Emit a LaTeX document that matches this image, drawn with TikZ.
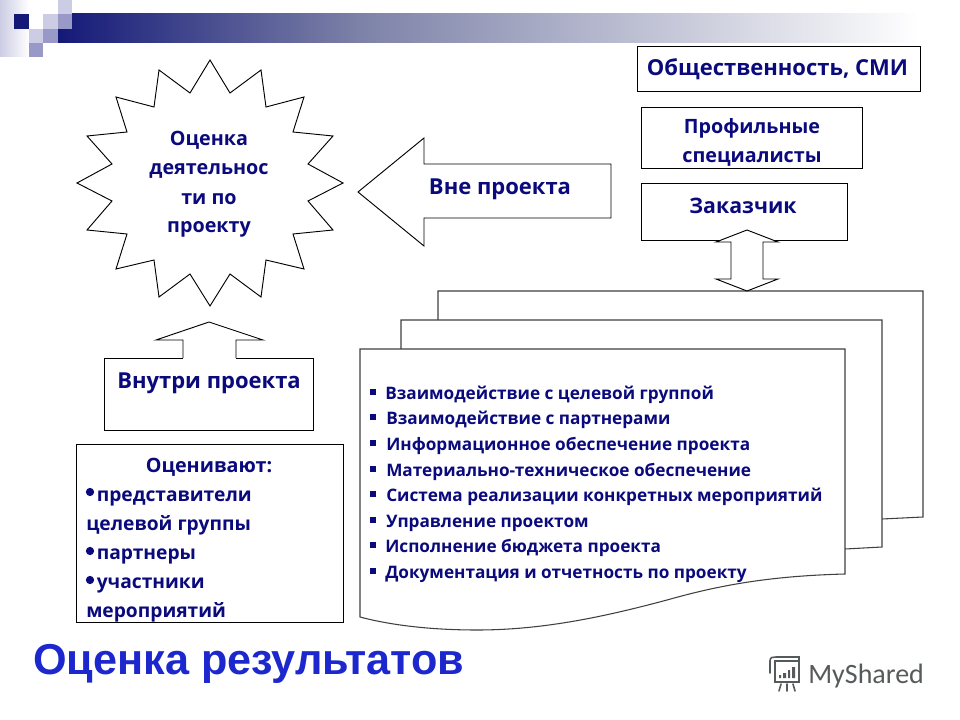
\documentclass[tikz,border=0pt]{standalone}
\usepackage{fontspec}
\setmainfont{Open Sans}
\newfontfamily\titlefont{Liberation Sans}
\newfontfamily\logofont{Carlito}
\definecolor{navytext}{RGB}{10,10,125}
\definecolor{titleblue}{RGB}{28,40,205}
\definecolor{barnavy}{RGB}{20,25,120}
\definecolor{barmid}{RGB}{125,130,168}
\definecolor{lavlight}{RGB}{204,204,228}
\definecolor{lavmid}{RGB}{153,153,200}
\definecolor{logogray}{RGB}{85,90,90}
\usetikzlibrary{positioning}
\tikzset{
  big text/.style={text=navytext,font=\bfseries\fontsize{16.5}{20}\selectfont,anchor=base,inner sep=0pt},
  mid text/.style={text=navytext,font=\bfseries\fontsize{14.8}{22}\selectfont,anchor=base,inner sep=0pt},
  list text/.style={text=navytext,font=\bfseries\fontsize{12.9}{14}\selectfont,anchor=base west,inner sep=0pt},
  side text/.style={text=navytext,font=\bfseries\fontsize{14.4}{22}\selectfont,anchor=base west,inner sep=0pt},
  square bullet/.style={fill=navytext,minimum size=4pt,inner sep=0pt},
  round bullet/.style={circle,fill=navytext,minimum size=6.2pt,inner sep=0pt},
  outline/.style={draw=black,line width=0.7pt,fill=white},
  boxed/.style={outline,inner sep=0pt},
  sheet/.style={draw=black!75,line width=0.8pt,fill=white},
}
\begin{document}
\begin{tikzpicture}[x=0.75pt,y=-0.75pt]
  \useasboundingbox (0,0) rectangle (960,720);
  % header
  \shade[left color=barnavy,right color=barmid] (58,14) rectangle (360,43);
  \shade[left color=barmid,right color=white] (360,14) rectangle (920,43);
  \shade[left color=lavlight,right color=white] (0,0) rectangle (29,57);
  \fill[lavlight] (58,0) rectangle (72,14);
  \fill[barnavy] (14,14) rectangle (29,29);
  \fill[lavlight] (43,14) rectangle (58,29);
  \fill[lavmid] (58,14) rectangle (72,29);
  \fill[lavlight] (29,29) rectangle (43,43);
  \fill[lavmid] (43,29) rectangle (58,43);
  \fill[lavmid] (29,43) rectangle (43,57);
  % star
  \draw[outline] (210,60) -- (230,93) -- (261,70) -- (266,107) -- (304,97) -- (293,132) -- (333,136) -- (308,164)
    -- (343,183) -- (308,201) -- (333,230) -- (293,234) -- (304,269) -- (266,260) -- (261,297) -- (230,274)
    -- (210,306) -- (190,274) -- (159,297) -- (154,260) -- (116,269) -- (127,234) -- (87,230) -- (112,201)
    -- (77,183) -- (112,164) -- (87,136) -- (127,132) -- (116,97) -- (154,107) -- (159,70) -- (190,93) -- cycle;
  \node[mid text] (star1) at (209,145.5) {Оценка};
  \node[mid text] (star2) at (209,175) {деятельнос};
  \node[mid text] (star3) at (209,204.5) {ти по};
  \node[mid text] (star4) at (209,233) {проекту};
  % arrows
  \draw[outline] (358,192) -- (424,138) -- (424,164) -- (611,164) -- (611,218) -- (424,218) -- (424,246) -- cycle;
  \node[big text] (outside) at (500,195) {Вне проекта};
  \node[boxed,minimum width=156.75pt,minimum height=54pt] (inside) at (209,394) {};
  \fill[white] (183,340) rectangle (236,359);
  \draw[black,line width=0.7pt] (183,358) -- (183,340) -- (156,340) -- (209,322) -- (263,340) -- (236,340) -- (236,358);
  \node[big text] (insidetext) at (209,388) {Внутри проекта};
  % right column
  \node[boxed,minimum width=212.25pt,minimum height=33.75pt] (public) at (778.5,68.5) {};
  \node[big text] (publictext) at (777.5,76) {Общественность, СМИ};
  \node[boxed,minimum width=165.75pt,minimum height=45.75pt] (experts) at (751.5,137.5) {};
  \node[mid text] (experts1) at (752,134) {Профильные};
  \node[mid text] (experts2) at (752,163) {специалисты};
  \node[boxed,minimum width=154.5pt,minimum height=42.75pt] (client) at (744,211.5) {};
  \node[big text,font=\bfseries\fontsize{16}{20}\selectfont] (clienttext) at (743,214) {Заказчик};
  % sheets
  \draw[sheet] (438,291) -- (923,291) -- (923,517) -- (882,519) -- (438,519) -- cycle;
  \draw[sheet] (401,320) -- (882,320) -- (882,547) -- (845,549) -- (401,549) -- cycle;
  \draw[sheet] (360,349) -- (845,349) -- (845,574) .. controls (770,576) and (720,585) .. (667,600)
    .. controls (600,618) and (540,630) .. (477,630) .. controls (430,630) and (390,625) .. (360,617) -- cycle;
  \draw[outline] (747,230) -- (778,242) -- (763,242) -- (763,279) -- (778,279) -- (747,291) -- (716,279)
    -- (731,279) -- (731,242) -- (716,242) -- cycle;
  % list
  \node[square bullet] (dot1) at (373,392) {};
  \node[list text] (item1) at (385,399) {Взаимодействие с целевой группой};
  \node[square bullet] (dot2) at (373,417) {};
  \node[list text] (item2) at (386,424) {Взаимодействие с партнерами};
  \node[square bullet] (dot3) at (373,443) {};
  \node[list text] (item3) at (386,450) {Информационное обеспечение проекта};
  \node[square bullet] (dot4) at (373,469) {};
  \node[list text] (item4) at (386,476) {Материально-техническое обеспечение};
  \node[square bullet] (dot5) at (373,494) {};
  \node[list text] (item5) at (386,501) {Система реализации конкретных мероприятий};
  \node[square bullet] (dot6) at (373,520) {};
  \node[list text] (item6) at (386,527) {Управление проектом};
  \node[square bullet] (dot7) at (373,545) {};
  \node[list text] (item7) at (385,552) {Исполнение бюджета проекта};
  \node[square bullet] (dot8) at (373,571) {};
  \node[list text] (item8) at (385,578) {Документация и отчетность по проекту};
  % who evaluates
  \node[boxed,minimum width=200pt,minimum height=133.5pt] (who) at (210,533.5) {};
  \node[mid text] (who0) at (209,472) {Оценивают:};
  \node[round bullet] (whodot1) at (90,492) {};
  \node[side text] (who1) at (96.5,501.5) {представители};
  \node[side text] (who2) at (86,530) {целевой группы};
  \node[round bullet] (whodot2) at (90,551) {};
  \node[side text] (who3) at (96.5,559.5) {партнеры};
  \node[round bullet] (whodot3) at (90,580) {};
  \node[side text] (who4) at (96.5,588) {участники};
  \node[side text] (who5) at (86,617) {мероприятий};
  % title
  \node[text=titleblue,font=\titlefont\bfseries\fontsize{32.4}{36}\selectfont,anchor=base west,inner sep=0pt] (title) at (33,674) {Оценка результатов};
  % logo
  \draw[logogray,line width=0.9pt] (775,661) rectangle (799,682);
  \draw[logogray,line width=1.2pt,line cap=round] (770,661) .. controls (770,657) and (773,657) .. (776,657) -- (799,657) -- (799,661)
    (770,661) -- (770,673) (781,684) -- (779,691) (787,684) -- (787,691) (793,684) -- (795,691);
  \fill[logogray] (779,675) rectangle (781,678) (783,673) rectangle (786,678) (788,670) rectangle (790,678) (792,667) rectangle (795,678);
  \node[text=logogray,font=\logofont\fontsize{21}{26}\selectfont,anchor=base west,inner sep=0pt] (logo) at (808,683) {MyShared};
\end{tikzpicture}
\end{document}
